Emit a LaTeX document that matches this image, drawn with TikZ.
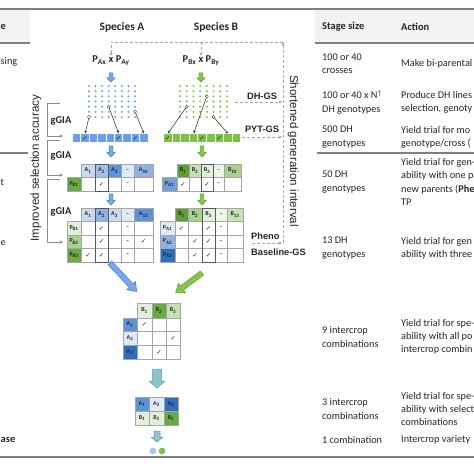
\documentclass[tikz,border=0pt]{standalone}
\usepackage{fontspec}
\setmainfont{Carlito}
\newfontfamily\arialf{Liberation Sans}
\newfontfamily\symf{DejaVu Sans}
\usetikzlibrary{arrows.meta}
\definecolor{lineg}{HTML}{7F7F7F}
\definecolor{hdrg}{HTML}{F2F2F2}
\definecolor{dashg}{HTML}{A6A6A6}
\definecolor{brkg}{HTML}{8C8C8C}
\definecolor{txt}{HTML}{262626}
\definecolor{gridc}{HTML}{A6A6A6}
\definecolor{blA}{HTML}{DEEBF7}
\definecolor{blB}{HTML}{C9D9F0}
\definecolor{blC}{HTML}{A4BEE8}
\definecolor{blD}{HTML}{8FB1E3}
\definecolor{blE}{HTML}{5B93D8}
\definecolor{blF}{HTML}{2E6FBF}
\definecolor{blG}{HTML}{6FA0DC}
\definecolor{grA}{HTML}{E2EFDA}
\definecolor{grB}{HTML}{C6E0B4}
\definecolor{grC}{HTML}{A9D08E}
\definecolor{grD}{HTML}{6AAA45}
\definecolor{grE}{HTML}{5E9E3A}
\definecolor{grL}{HTML}{EEF5E8}
\definecolor{dotbl}{HTML}{6D9EEB}
\definecolor{dotgr}{HTML}{7DC242}
\definecolor{dotlb}{HTML}{A4C8F0}
\definecolor{arbl}{HTML}{7AA7EE}
\definecolor{arbld}{HTML}{3C78D8}
\definecolor{argr}{HTML}{86C546}
\definecolor{argrd}{HTML}{5E9E3A}
\definecolor{tealf}{HTML}{8CC4CC}
\definecolor{teald}{HTML}{5A9AA2}
\newcommand{\blockarr}[8]{%
  \begin{scope}[shift={#1},rotate=#2]
  \filldraw[fill=#7,draw=#8,line width=0.5bp] (0,-#4) -- ({#3-#6},-#4) -- ({#3-#6},-#5) -- (#3,0) -- ({#3-#6},#5) -- ({#3-#6},#4) -- (0,#4) -- cycle;
  \end{scope}}
\newcommand{\mc}[7]{\node[cellst,fill=#5,minimum width={(#3-#1)*1bp},minimum height={(#4-#2)*1bp}] (#6) at ({(#1+#3)/2},{(#2+#4)/2}) {#7};}
\newcommand{\ck}{✓}
\begin{document}
\begin{tikzpicture}[x=1bp,y=-1bp,
 cellst/.style={draw=gridc,line width=0.4bp,inner sep=0pt,outer sep=0pt,font=\bfseries\fontsize{6}{6}\selectfont,text=txt},
 ckst/.style={inner sep=0pt,font=\symf\fontsize{6.5}{6.5}\selectfont,text=txt},
 dsst/.style={inner sep=0pt,font=\bfseries\fontsize{6}{6}\selectfont,text=txt},
 colbox/.style={draw=black!65,line width=0.9bp},
 sqbl/.style={fill=dotbl,minimum width=7.4bp,minimum height=8.4bp,inner sep=0pt},
 sqgr/.style={fill=dotgr,minimum width=7.6bp,minimum height=8.4bp,inner sep=0pt},
 conn/.style={draw=black!75,line width=0.6bp,-{Stealth[length=3.2bp,width=2.6bp]}},
 startc/.style={draw=black!75,line width=0.4bp,fill=white},
 dashln/.style={draw=dashg,line width=0.9bp,dash pattern=on 3bp off 2bp},
 dtip/.style={-{Stealth[length=3.5bp,width=3.2bp]}},
 brk/.style={draw=brkg,line width=0.7bp},
 btip/.style={-{Stealth[length=3.5bp,width=3.2bp]}},
 tline/.style={draw=lineg,line width=1.2bp},
 tabtxt/.style={anchor=west,inner sep=0pt,align=left,font=\fontsize{10.3}{13.3}\selectfont,text=txt},
 tabhd/.style={anchor=west,inner sep=0pt,font=\bfseries\fontsize{10.5}{12}\selectfont,text=txt},
 spec/.style={inner sep=0pt,font=\bfseries\fontsize{11.5}{13}\selectfont,text=txt},
 plab/.style={inner sep=0pt,font=\bfseries\fontsize{10.5}{12}\selectfont,text=txt},
 gia/.style={inner sep=0pt,font=\bfseries\fontsize{10.5}{12}\selectfont,text=txt},
 gslab/.style={inner sep=0pt,font=\arialf\bfseries\fontsize{9.3}{11}\selectfont,text=txt},
 rotlab/.style={inner sep=0pt,font=\arialf\fontsize{11.6}{13}\selectfont,text=txt}
]
\useasboundingbox (0,0) rectangle (474,474);
\fill[white] (0,0) rectangle (474,474);
\clip (0,0) rectangle (474,474);

% ---------- table frame ----------
\fill[hdrg] (0,10) rectangle (30,43);
\fill[hdrg] (315,10) rectangle (474,43);
\draw[tline] (0,9) -- (474,9);
\draw[tline] (0,43) -- (30,43);
\draw[tline] (315,43) -- (474,43);
\draw[tline] (0,153) -- (28,153);
\draw[tline] (317,153) -- (474,153);
\draw[tline] (0,457) -- (474,457);

% left column fragments
\node[tabhd] (lh) at (0.5,27) {e};
\node[tabtxt] (l1) at (0.5,62) {sing};
\node[tabtxt] (l2) at (0.5,182) {t};
\node[tabtxt] (l3) at (0.5,243) {e};
\node[tabhd] (l4) at (0.5,440) {ase};

% right table
\node[tabhd] (hs) at (322,27) {Stage size};
\node[tabhd] (ha) at (401,27) {Action};
\node[tabtxt] (s1) at (322,64) {100 or 40\\crosses};
\node[tabtxt] (a1) at (401,64) {Make bi-parental};
\node[tabtxt] (s2) at (322,102) {100 or 40 x N\textsuperscript{†}\\DH genotypes};
\node[tabtxt] (a2) at (401,102) {Produce DH lines\\selection, genoty};
\node[tabtxt] (s3) at (322,137) {500 DH\\genotypes};
\node[tabtxt] (a3) at (401,137) {Yield trial for mo\\genotype/cross (};
\node[tabtxt] (s4) at (322,182) {50 DH\\genotypes};
\node[tabtxt] (a4) at (401,182) {Yield trial for gen-\\ability with one p\\new parents (\textbf{Phe}\\TP};
\node[tabtxt] (s5) at (322,248) {13 DH\\genotypes};
\node[tabtxt] (a5) at (401,248) {Yield trial for gen\\ability with three};
\node[tabtxt] (s6) at (322,337) {9 intercrop\\combinations};
\node[tabtxt] (a6) at (401,337) {Yield trial for spe-\\ability with all po\\intercrop combin};
\node[tabtxt] (s7) at (322,409) {3 intercrop\\combinations};
\node[tabtxt] (a7) at (401,409) {Yield trial for spe-\\ability with select\\combinations};
\node[tabtxt] (s8) at (322,440) {1 combination};
\node[tabtxt] (a8) at (401,440) {Intercrop variety};

% ---------- headings ----------
\node[spec] (spa) at (122,27) {Species A};
\node[spec] (spb) at (216,27) {Species B};
\node[plab] (pax) at (111,61) {P\textsubscript{Ax} x P\textsubscript{Ay}};
\node[plab] (pbx) at (201,61) {P\textsubscript{Bx} x P\textsubscript{By}};

% ---------- dashed feedback lines ----------
\coordinate (topL) at (111,42);
\coordinate (topM) at (201,42);
\coordinate (topR) at (283,42);
\coordinate (vbot) at (283,243);
\coordinate (dhs) at (235,102);
\coordinate (dhe) at (282,102);
\coordinate (pys) at (242,137);
\coordinate (pye) at (282,137);
\coordinate (phs) at (252,243);
\coordinate (phe) at (282,243);
\draw[dashln,dtip] (vbot) -- (topR);
\draw[dashln,dtip] (topR) -- (topL) -- (pax.north);
\draw[dashln,dtip] (topM) -- (pbx.north);
\draw[dashln,dtip] (dhs) -- (dhe);
\draw[dashln,dtip] (pys) -- (pye);
\draw[dashln,dtip] (phs) -- (phe);
\node[gslab] (dhgs) at (262,96) {DH-GS};
\node[gslab] (pytgs) at (262,129) {PYT-GS};
\node[gslab,anchor=west] (pheno) at (251,236) {Pheno};
\node[gslab,anchor=west] (bgs) at (251,252) {Baseline-GS};
\node[rotlab,rotate=-90] (sgi) at (293,151) {Shortened generation interval};
\node[rotlab,rotate=90] (isa) at (36,168) {Improved selection accuracy};

% ---------- brackets ----------
\coordinate (br1a) at (60,103); \coordinate (br1b) at (47,103); \coordinate (br1c) at (47,136); \coordinate (br1d) at (63,136);
\coordinate (br2a) at (60,140); \coordinate (br2b) at (47,140); \coordinate (br2c) at (47,175); \coordinate (br2d) at (63,175);
\coordinate (br3a) at (60,179); \coordinate (br3b) at (47,179); \coordinate (br3c) at (47,242); \coordinate (br3d) at (63,242);
\draw[brk,btip] (br1a) -- (br1b) -- (br1c) -- (br1d);
\draw[brk,btip] (br2a) -- (br2b) -- (br2c) -- (br2d);
\draw[brk,btip] (br3a) -- (br3b) -- (br3c) -- (br3d);
\node[gia] (g1) at (61,121) {gGIA};
\node[gia] (g2) at (61,156) {gGIA};
\node[gia] (g3) at (61,212) {gGIA};

% ---------- species A: dots, squares ----------
\blockarr{(111,73)}{-90}{9}{1.8}{4}{4}{arbl}{arbld}
\foreach \i in {0,...,7}{\foreach \j in {0,...,6}{\fill[dotbl] ({89+\i*6.57},{86+\j*5.17}) circle (1.1);}}
\foreach \k in {1,...,9}{\node[sqbl] (sqA\k) at ({73+8.4*(\k-1)+3.7},138) {};}
\node[ckst] (sqAk2) at (sqA2) {\ck};
\node[ckst] (sqAk6) at (sqA6) {\ck};
\node[ckst] (sqAk8) at (sqA8) {\ck};
\coordinate (bd1) at (89,117);
\coordinate (bd2) at (108.7,106.7);
\coordinate (bd3) at (135,111.8);
\draw[conn] (bd1) -- (sqA2.north);
\draw[conn] (bd2) -- (sqA6.north);
\draw[conn] (bd3) -- (sqA9.north);
\filldraw[startc] (bd1) circle (1.6);
\filldraw[startc] (bd2) circle (1.6);
\filldraw[startc] (bd3) circle (1.6);
\blockarr{(111,146)}{-90}{11}{1.8}{4}{4.5}{arbl}{arbld}

% ---------- species B: dots, squares ----------
\blockarr{(201,73)}{-90}{9}{1.8}{4}{4}{argr}{argrd}
\foreach \i in {0,...,7}{\foreach \j in {0,...,6}{\fill[dotgr] ({180+\i*6.71},{86+\j*5.17}) circle (1.1);}}
\foreach \k in {1,...,9}{\node[sqgr] (sqB\k) at ({164+8.6*(\k-1)+3.8},138) {};}
\node[ckst] (sqBk1) at (sqB1) {\ck};
\node[ckst] (sqBk5) at (sqB5) {\ck};
\node[ckst] (sqBk7) at (sqB7) {\ck};
\coordinate (gd1) at (186.7,106.7);
\coordinate (gd2) at (206.8,96.3);
\coordinate (gd3) at (213.6,117);
\draw[conn] (gd1) -- (sqB1.north);
\draw[conn] (gd2) -- (sqB4.north);
\draw[conn] (gd3) -- (sqB8.north);
\filldraw[startc] (gd1) circle (1.6);
\filldraw[startc] (gd2) circle (1.6);
\filldraw[startc] (gd3) circle (1.6);
\blockarr{(202,146)}{-90}{11}{1.8}{4}{4.5}{argr}{argrd}

% ---------- matrix A1 ----------
\foreach \c/\xa/\xb in {1/81/95,2/95/108,3/108/121,4/121/134,5/134/153}{\mc{\xa}{177}{\xb}{191}{white}{ma1d\c}{}}
\mc{81}{164}{95}{177}{blB}{ma1h1}{A\textsubscript{1}}
\mc{95}{164}{108}{177}{blC}{ma1h2}{A\textsubscript{2}}
\mc{108}{164}{121}{177}{blE}{ma1h3}{A\textsubscript{3}}
\mc{121}{164}{134}{177}{blA}{ma1h4}{–}
\mc{134}{164}{153}{177}{blD}{ma1h5}{A\textsubscript{50}}
\mc{67}{177}{81}{191}{grD}{ma1l1}{P\textsubscript{B1}}
\node[ckst] (ma1k) at (ma1d2) {\ck};
\node[dsst] (ma1s) at (ma1d4) {–};
\draw[colbox] (95,164) rectangle (108,191);
\blockarr{(111,194)}{-90}{11}{1.8}{4}{4.5}{arbl}{arbld}

% ---------- matrix A2 ----------
\foreach \r/\ya/\yb in {1/221/235,2/235/248,3/248/262}{\foreach \c/\xa/\xb in {1/81/95,2/95/108,3/108/121,4/121/134,5/134/153}{\mc{\xa}{\ya}{\xb}{\yb}{white}{ma2d\r\c}{}}}
\mc{81}{208}{95}{221}{blB}{ma2h1}{A\textsubscript{1}}
\mc{95}{208}{108}{221}{blD}{ma2h2}{A\textsubscript{2}}
\mc{108}{208}{121}{221}{blB}{ma2h3}{A\textsubscript{3}}
\mc{121}{208}{134}{221}{blA}{ma2h4}{–}
\mc{134}{208}{153}{221}{blE}{ma2h5}{A\textsubscript{13}}
\mc{67}{221}{81}{235}{grA}{ma2l1}{P\textsubscript{B1}}
\mc{67}{235}{81}{248}{grC}{ma2l2}{P\textsubscript{B2}}
\mc{67}{248}{81}{262}{grD}{ma2l3}{P\textsubscript{B3}}
\node[ckst] (ma2k12) at (ma2d12) {\ck};
\node[ckst] (ma2k22) at (ma2d22) {\ck};
\node[ckst] (ma2k25) at (ma2d25) {\ck};
\node[ckst] (ma2k31) at (ma2d31) {\ck};
\node[ckst] (ma2k32) at (ma2d32) {\ck};
\node[dsst] (ma2s1) at (ma2d14) {–};
\node[dsst] (ma2s2) at (ma2d24) {–};
\node[dsst] (ma2s3) at (ma2d34) {–};
\draw[colbox] (95,208) rectangle (108,262);

% ---------- matrix B1 ----------
\foreach \c/\xa/\xb in {1/177/189,2/189/201,3/201/213,4/213/224,5/224/241}{\mc{\xa}{177}{\xb}{191}{white}{mb1d\c}{}}
\mc{177}{164}{189}{177}{grE}{mb1h1}{B\textsubscript{1}}
\mc{189}{164}{201}{177}{grB}{mb1h2}{B\textsubscript{2}}
\mc{201}{164}{213}{177}{grA}{mb1h3}{B\textsubscript{3}}
\mc{213}{164}{224}{177}{grL}{mb1h4}{–}
\mc{224}{164}{241}{177}{grC}{mb1h5}{B\textsubscript{10}}
\mc{162}{177}{177}{191}{blG}{mb1l1}{P\textsubscript{A1}}
\node[ckst] (mb1k1) at (mb1d1) {\ck};
\node[ckst] (mb1k3) at (mb1d3) {\ck};
\node[dsst] (mb1s) at (mb1d4) {–};
\draw[colbox] (201,164) rectangle (213,191);
\blockarr{(202,194)}{-90}{11}{1.8}{4}{4.5}{argr}{argrd}

% ---------- matrix B2 ----------
\foreach \r/\ya/\yb in {1/221/235,2/235/248,3/248/262}{\foreach \c/\xa/\xb in {1/175/188,2/188/202,3/202/215,4/215/227,5/227/243}{\mc{\xa}{\ya}{\xb}{\yb}{white}{mb2d\r\c}{}}}
\mc{175}{208}{188}{221}{grE}{mb2h1}{B\textsubscript{1}}
\mc{188}{208}{202}{221}{grC}{mb2h2}{B\textsubscript{2}}
\mc{202}{208}{215}{221}{grA}{mb2h3}{B\textsubscript{3}}
\mc{215}{208}{227}{221}{grL}{mb2h4}{–}
\mc{227}{208}{243}{221}{grB}{mb2h5}{B\textsubscript{13}}
\mc{160}{221}{175}{235}{blA}{mb2l1}{P\textsubscript{A1}}
\mc{160}{235}{175}{248}{blD}{mb2l2}{P\textsubscript{A2}}
\mc{160}{248}{175}{262}{blF}{mb2l3}{P\textsubscript{A3}}
\node[ckst] (mb2k11) at (mb2d11) {\ck};
\node[ckst] (mb2k13) at (mb2d13) {\ck};
\node[ckst] (mb2k22) at (mb2d22) {\ck};
\node[ckst] (mb2k23) at (mb2d23) {\ck};
\node[ckst] (mb2k32) at (mb2d32) {\ck};
\node[ckst] (mb2k33) at (mb2d33) {\ck};
\node[dsst] (mb2s1) at (mb2d14) {–};
\node[dsst] (mb2s2) at (mb2d24) {–};
\node[dsst] (mb2s3) at (mb2d34) {–};
\draw[colbox] (202,208) rectangle (215,262);

% ---------- diagonal arrows ----------
\blockarr{(110,263)}{-47}{39}{2.6}{6}{8}{arbl}{arbld}
\blockarr{(202,273)}{-143}{33}{2.6}{6}{8}{argr}{argrd}

% ---------- matrix C (3x3) ----------
\foreach \r/\ya/\yb in {1/318/331,2/331/345,3/345/359}{\foreach \c/\xa/\xb in {1/137/152,2/152/166,3/166/180}{\mc{\xa}{\ya}{\xb}{\yb}{white}{mcd\r\c}{}}}
\mc{137}{303}{152}{318}{grA}{mch1}{B\textsubscript{1}}
\mc{152}{303}{166}{318}{grD}{mch2}{B\textsubscript{2}}
\mc{166}{303}{180}{318}{grB}{mch3}{B\textsubscript{3}}
\mc{123}{318}{137}{331}{blE}{mcl1}{A\textsubscript{1}}
\mc{123}{331}{137}{345}{blA}{mcl2}{A\textsubscript{2}}
\mc{123}{345}{137}{359}{blF}{mcl3}{A\textsubscript{3}}
\node[ckst] (mck11) at (mcd11) {\ck};
\node[ckst] (mck23) at (mcd23) {\ck};
\node[ckst] (mck32) at (mcd32) {\ck};
\blockarr{(157,369)}{-90}{19}{4.5}{8}{7}{tealf}{teald}

% ---------- matrix D (2x3) ----------
\mc{135}{397}{149}{411}{blE}{md11}{A\textsubscript{1}}
\mc{149}{397}{164}{411}{blA}{md12}{A\textsubscript{2}}
\mc{164}{397}{178}{411}{blF}{md13}{A\textsubscript{3}}
\mc{135}{411}{149}{425}{grA}{md21}{B\textsubscript{1}}
\mc{149}{411}{164}{425}{grA}{md22}{B\textsubscript{3}}
\mc{164}{411}{178}{425}{grD}{md23}{B\textsubscript{2}}
\blockarr{(157,431)}{-90}{11}{3}{6}{5}{tealf}{teald}
\fill[dotlb] (153,451) circle (3.3);
\fill[dotgr] (162,451) circle (3.3);
\end{tikzpicture}
\end{document}
